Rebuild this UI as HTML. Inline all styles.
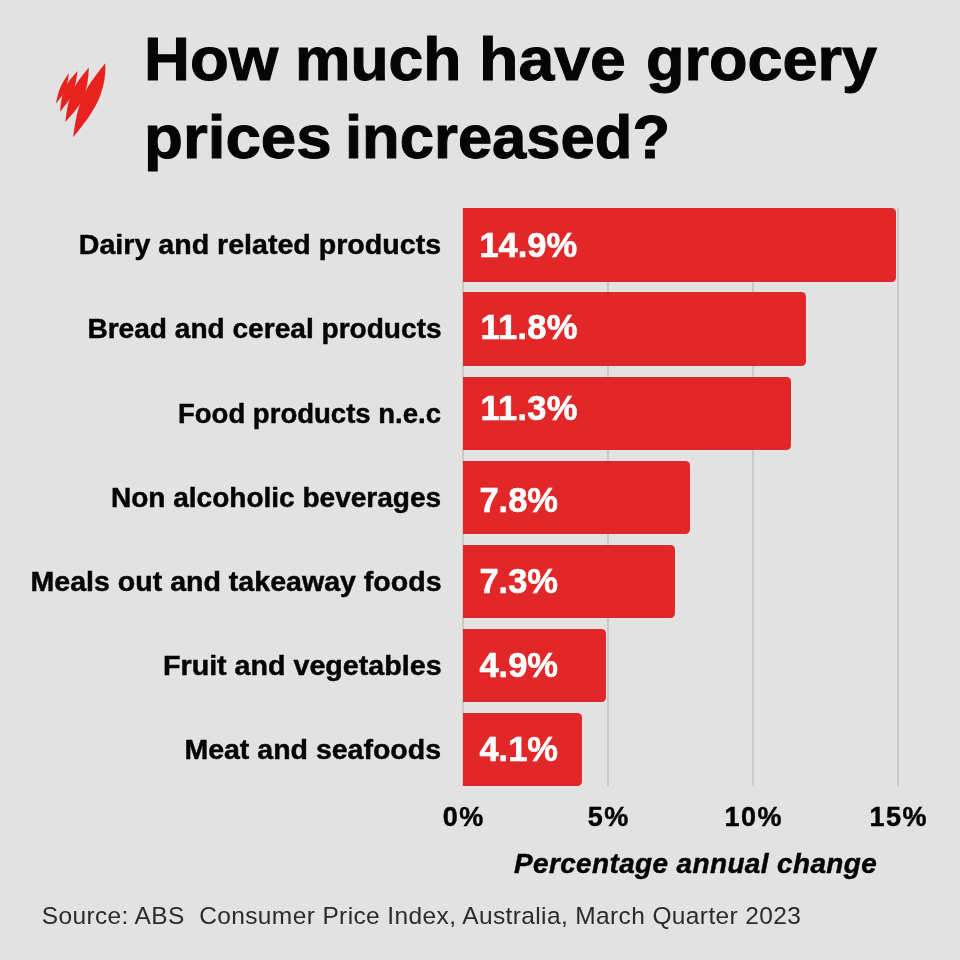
<!DOCTYPE html>
<html lang="en">
<head>
<meta charset="utf-8">
<title>How much have grocery prices increased?</title>
<style>
html,body{margin:0;padding:0;}
body{width:960px;height:960px;background:#e2e2e2;position:relative;overflow:hidden;font-family:"Liberation Sans",sans-serif;color:#050505;}
.abs{position:absolute;white-space:nowrap;line-height:1;}
#logo{position:absolute;left:50px;top:58px;width:62px;height:84px;}
h1{margin:0;font-weight:bold;font-size:61px;-webkit-text-stroke:1px #050505;}
h1 span{display:block;position:absolute;white-space:nowrap;line-height:1;transform-origin:0 0;}
.grid{position:absolute;top:208px;height:578px;width:1.5px;background:#cacaca;}
.bar{position:absolute;left:463px;height:73.7px;background:#e22729;border-radius:0 4.5px 4.5px 0;}
.val{-webkit-text-stroke:0.6px #fff;position:absolute;left:16.4px;font-size:34.5px;font-weight:bold;color:#fff;line-height:1;white-space:nowrap;}
.lab{-webkit-text-stroke:0.45px #050505;transform-origin:100% 0;position:absolute;right:518.5px;font-size:27px;font-weight:bold;line-height:1;white-space:nowrap;text-align:right;}
.tick{-webkit-text-stroke:0.45px #050505;position:absolute;top:804px;width:100px;margin-left:-50px;text-align:center;letter-spacing:1.6px;padding-left:1.6px;box-sizing:border-box;font-size:27px;font-weight:bold;line-height:1;}
#axis{-webkit-text-stroke:0.45px #050505;transform-origin:0 0;transform:scaleX(1.034);left:514px;top:851px;letter-spacing:0.38px;font-size:27px;font-weight:bold;font-style:italic;}
#src{left:41.7px;top:904.3px;letter-spacing:0.38px;font-size:24.5px;color:#2b2b2b;}
</style>
</head>
<body>
<svg id="logo" viewBox="50 58 62 84">
<g fill="#e8231f">
<path d="M68.8 73.3 C67.3 88.0 65.5 92.2 55.9 103.5 C58.7 89.4 60.6 85.1 68.8 73.3Z"/>
<path d="M77.5 71.1 C75.2 90.8 72.7 96.5 60.1 111.8 C61.6 91.7 64.0 86.0 77.5 71.1Z"/>
<path d="M88.9 67.6 C87.2 94.6 83.9 102.2 65.3 121.9 C68.5 95.5 71.8 87.9 88.9 67.6Z"/>
<path d="M105.3 63.2 C106.6 92.8 93.6 112.7 73.0 137.2 C78.0 101.5 82.5 91.1 105.3 63.2Z"/>
</g>
</svg>
<h1><span style="left:143.6px;top:29.2px;letter-spacing:0px;transform:scaleX(1.043)">How</span> <span style="left:295.2px;top:29.2px;letter-spacing:0px;transform:scaleX(1.022)">much</span> <span style="left:479.2px;top:29.2px;letter-spacing:0px;transform:scaleX(1.057)">have</span> <span style="left:645.9px;top:29.2px;letter-spacing:0px;transform:scaleX(1.033)">grocery</span> <span style="left:143.9px;top:106.7px;letter-spacing:0px;transform:scaleX(1.044)">prices</span> <span style="left:345.2px;top:106.7px;letter-spacing:0px;transform:scaleX(1.009)">increased?</span> </h1>
<div class="grid" style="left:462.2px"></div>
<div class="grid" style="left:607.4px"></div>
<div class="grid" style="left:752.2px"></div>
<div class="grid" style="left:897.0px"></div>
<div class="lab" style="top:232.2px;transform:scaleX(1.059)">Dairy and related products</div>
<div class="lab" style="top:316.4px;transform:scaleX(1.04)">Bread and cereal products</div>
<div class="lab" style="top:400.6px;transform:scaleX(1.0195)">Food products n.e.c</div>
<div class="lab" style="top:484.8px;transform:scaleX(1.038)">Non alcoholic beverages</div>
<div class="lab" style="top:569.0px;transform:scaleX(1.058)">Meals out and takeaway foods</div>
<div class="lab" style="top:653.1px;transform:scaleX(1.061)">Fruit and vegetables</div>
<div class="lab" style="top:737.3px;transform:scaleX(1.056)">Meat and seafoods</div>
<div class="bar" style="top:208.40px;width:432.6px"><span class="val" style="top:19.7px">14.9%</span></div>
<div class="bar" style="top:292.45px;width:342.6px"><span class="val" style="top:17.4px;left:17.4px;letter-spacing:0.3px">11.8%</span></div>
<div class="bar" style="top:376.50px;width:328.0px"><span class="val" style="top:14.3px;left:17.4px;letter-spacing:0.3px">11.3%</span></div>
<div class="bar" style="top:460.55px;width:226.7px"><span class="val" style="top:22.2px">7.8%</span></div>
<div class="bar" style="top:544.60px;width:212.3px"><span class="val" style="top:19.3px">7.3%</span></div>
<div class="bar" style="top:628.65px;width:142.8px"><span class="val" style="top:19.4px">4.9%</span></div>
<div class="bar" style="top:712.70px;width:119.3px"><span class="val" style="top:19.3px">4.1%</span></div>
<div class="tick" style="left:463px">0%</div>
<div class="tick" style="left:608px">5%</div>
<div class="tick" style="left:753px">10%</div>
<div class="tick" style="left:898px">15%</div>
<div class="abs" id="axis">Percentage annual change</div>
<div class="abs" id="src">Source: ABS&nbsp; Consumer Price Index, Australia, March Quarter 2023</div>
</body>
</html>
